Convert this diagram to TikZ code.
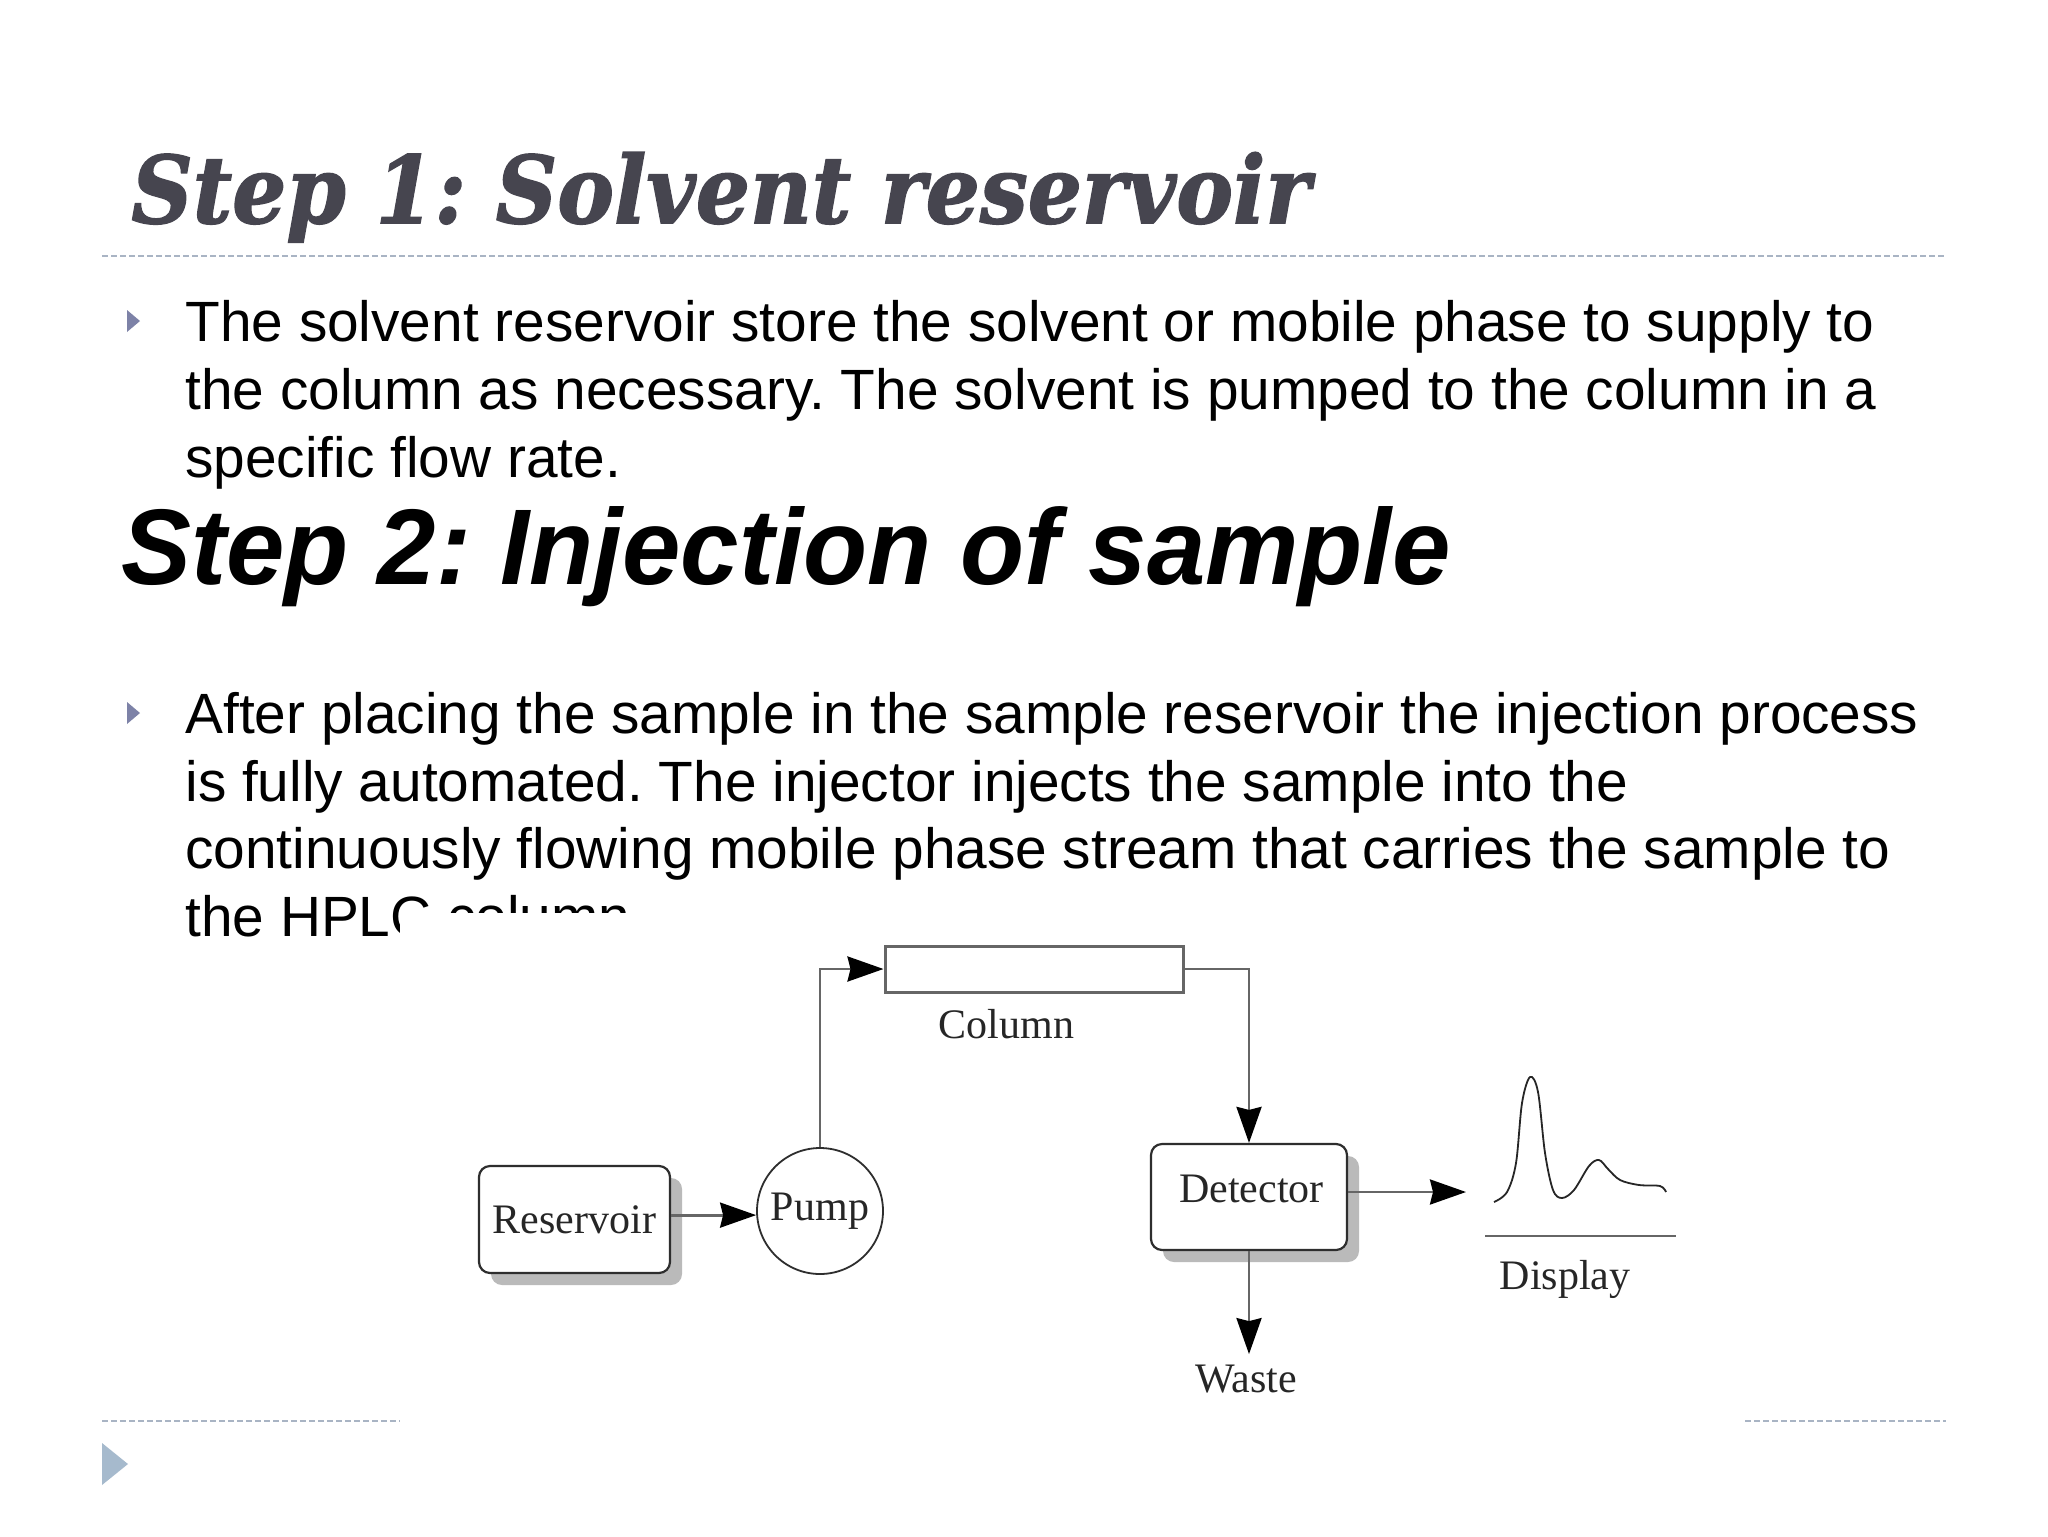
\documentclass[tikz,border=0pt]{standalone}
\usepackage{fontspec}
\setmainfont[Ligatures=CommonOff]{Liberation Sans}
\newfontfamily\slabfont[BoldItalicFeatures={FakeBold=1.6}]{DejaVu Serif}
\newfontfamily\timesfont{Liberation Serif}
\usepackage{graphicx}
\usetikzlibrary{arrows.meta,shadows,calc}
\definecolor{titlegrey}{HTML}{46454F}
\definecolor{rulecol}{HTML}{A9B4C4}
\definecolor{bulletcol}{HTML}{7D82A7}
\definecolor{cornercol}{HTML}{A6BACD}
\definecolor{pipecol}{HTML}{666666}
\definecolor{boxcol}{HTML}{2E2E2E}
\frenchspacing
\tikzset{
  body/.style={anchor=base west, inner sep=0pt, font=\fontsize{28.4pt}{34pt}\selectfont},
  dashrule/.style={draw=rulecol, line width=1pt, dash pattern=on 3pt off 1.5pt},
  flow/.style={draw=pipecol, line width=1.4pt, -{Stealth[length=18pt,width=12.5pt,inset=1.5pt,color=black]}},
  pipe/.style={draw=pipecol, line width=1.4pt},
  dlabel/.style={inner sep=0pt, font=\timesfont\fontsize{21pt}{24pt}\selectfont, text=black!85},
  unitbox/.style={draw=boxcol, line width=1.1pt, fill=white, rounded corners=5.5pt,
    drop shadow={shadow xshift=6pt, shadow yshift=-6pt, fill=black!27, opacity=1}},
}
\begin{document}
\begin{tikzpicture}[x=0.5pt,y=-0.5pt]
\useasboundingbox (0,0) rectangle (2048,1536);
\fill[white] (0,0) rectangle (2048,1536);

% ---- Step 1 title
\node[anchor=base west, inner sep=0pt, text=titlegrey] (t1) at (131,223)
  {\resizebox{589.5pt}{\height}{\fontsize{46.6pt}{50pt}\selectfont\slabfont\bfseries\itshape Step 1: Solvent reservoir}};
\draw[dashrule] (102,256) -- (1946,256);

% ---- bullet 1
\fill[bulletcol] (127,310) -- (140,321) -- (127,332) -- cycle;
\node[body] (l1) at (185,341) {The solvent reservoir store the solvent or mobile phase to supply to};
\node[body] (l2) at (185,409) {the column as necessary. The solvent is pumped to the column in a};
\node[body] (l3) at (185,477) {specific flow rate.};

% ---- Step 2 title
\node[anchor=base west, inner sep=0pt] (t2) at (121,584)
  {\resizebox{664.5pt}{\height}{\fontsize{53.8pt}{58pt}\selectfont\bfseries\itshape Step 2: Injection of sample}};

% ---- bullet 2
\fill[bulletcol] (127,702) -- (140,713) -- (127,724) -- cycle;
\node[body] (l4) at (185,733) {After placing the sample in the sample reservoir the injection process};
\node[body] (l5) at (185,801) {is fully automated. The injector injects the sample into the};
\node[body] (l6) at (185,868) {continuously flowing mobile phase stream that carries the sample to};
\node[body] (l7) at (185,936) {the HPLC column};

% ---- pasted diagram picture (white background covering text)
\fill[white] (400,913) rectangle (1745,1536);

% footer
\draw[dashrule] (102,1421) -- (400,1421);
\draw[dashrule] (1745,1421) -- (1946,1421);
\fill[cornercol] (102,1443) -- (128,1464) -- (102,1485) -- cycle;

% ---- diagram
\node[unitbox, minimum width=95.5pt, minimum height=53.5pt, dlabel] (res) at (574.5,1219.5) {Reservoir};
\node[draw=boxcol, line width=0.9pt, circle, minimum size=63pt, inner sep=0pt, dlabel] (pump) at (820,1211) {Pump};
\node[draw=pipecol, line width=1.5pt, minimum width=149pt, minimum height=23pt, inner sep=0pt] (col) at (1034,969) {};
\node[dlabel, anchor=base] (collab) at (1006.5,1038) {Column};
\node[unitbox, minimum width=98pt, minimum height=53pt] (det) at (1249,1197) {};
\node[dlabel, anchor=base] (detlab) at (1251.5,1202) {Detector};
\node[dlabel, anchor=base, inner sep=5pt] (waste) at (1246,1392) {Waste};
\coordinate (dispin) at (1466,1192);
\node[dlabel, anchor=base] (displab) at (1565,1289) {Display};

\draw[flow] ([yshift=2.2pt]res.east) -- ([yshift=2.2pt]res.east -| pump.west);
\draw[flow] (pump.north) |- (col.west);
\draw[flow] (col.east) -| (det.north);
\draw[flow] ([yshift=2.5pt]det.east) -- (dispin);
\draw[flow] (det.south) -- (det.south |- waste.north);

% chromatogram
\draw[black!85, line width=0.9pt] plot[smooth, tension=0.55] coordinates {
  (1494,1202) (1507,1192) (1516,1163) (1522,1103) (1530,1077) (1538,1092)
  (1545,1153) (1553,1190) (1562,1198) (1574,1190) (1589,1166) (1599,1160)
  (1608,1169) (1620,1180) (1639,1185) (1660,1186) (1666,1192)};
\draw[pipe] (1485,1236) -- (1676,1236);
\end{tikzpicture}
\end{document}
